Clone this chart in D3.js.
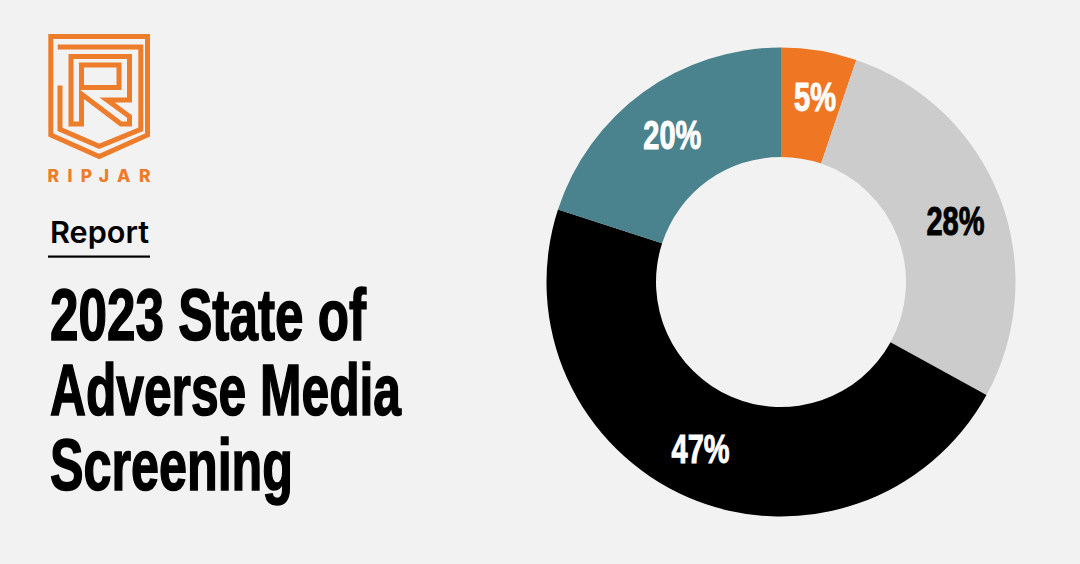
<!doctype html>
<html lang="en">
  <head>
    <meta charset="utf-8">
    <title>2023 State of Adverse Media Screening</title>
    <style>
      html, body { margin: 0; padding: 0; background: #f2f2f2; }
      svg { display: block; }
      .heavy { font-family: "Liberation Sans Narrow", "Liberation Sans", sans-serif; font-weight: 700; }
    </style>
    <script src="https://d3js.org/d3.v7.min.js"></script>
  </head>
  <body>
    <svg id="chart" width="1080" height="564"></svg>
    <script>
      // values
      var shares = [5.2, 27.8, 47, 20]
      var colors = ['#ef7623', '#cccccc', '#000000', '#4a838d']
      var labelColors = ['#ffffff', '#000000', '#ffffff', '#ffffff']
      var titleLines = ['2023 State of', 'Adverse Media', 'Screening']
      var titleWidths = [316, 351, 243]

      var svg = d3.select('#chart')
      var orange = '#ee7d2b'

      // donut
      var pie = d3.pie().sort(null)
      var arc = d3.arc().innerRadius(125).outerRadius(234.5)
      var labelArc = d3.arc().innerRadius(185).outerRadius(185)
      // labels in the original sit a little off the centroid
      var labelNudge = [[4, -3], [2, 6], [-7, -3], [0, 2]]

      var donut = svg.append('g').attr('transform', 'translate(781,282)')
      var slices = pie(shares)

      donut.selectAll('path')
        .data(slices)
        .enter()
        .append('path')
        .attr('d', arc)
        .attr('fill', function(d, i) { return colors[i] })

      donut.selectAll('text')
        .data(slices)
        .enter()
        .append('text')
        .attr('class', 'heavy')
        .attr('transform', function(d, i) {
          var c = labelArc.centroid(d)
          return 'translate(' + (c[0] + labelNudge[i][0]) + ',' + (c[1] + labelNudge[i][1]) + ')'
        })
        .attr('y', 14.5)
        .attr('text-anchor', 'middle')
        .attr('font-size', 40)
        .attr('textLength', function(d) { return String(Math.round(d.data)).length * 16 + 26 })
        .attr('lengthAdjust', 'spacingAndGlyphs')
        .attr('fill', function(d, i) { return labelColors[i] })
        .attr('stroke', function(d, i) { return labelColors[i] })
        .attr('stroke-width', 1)
        .text(function(d) { return Math.round(d.data) + '%' })

      // logo
      var logo = svg.append('g').attr('fill', 'none').attr('stroke', orange).attr('stroke-width', 5)
      logo.append('path').attr('d', 'M50.8,36.5 H147.5 V135 L99.2,156.6 L50.8,135 Z')
      logo.append('path').attr('d', 'M57.7,47 H140.8 V129.3 L99.2,146.3 L60,129.3 V85.5')
      logo.append('path').attr('d', 'M71,124 V56.5 H129.5 V100 H107 L129.5,116.5 V124 H121 L81.5,94 V124 Z')
      logo.append('rect').attr('x', 81.5).attr('y', 65).attr('width', 37.5).attr('height', 22.5)

      svg.append('text')
        .attr('x', 47.5).attr('y', 182.3)
        .attr('font-family', 'Inter, sans-serif')
        .attr('font-weight', 800)
        .attr('font-size', 17.5)
        .attr('fill', orange)
        .attr('textLength', 103)
        .attr('lengthAdjust', 'spacing')
        .text('RIPJAR')

      // headings
      svg.append('text')
        .attr('x', 50).attr('y', 243)
        .attr('font-family', 'Inter, sans-serif')
        .attr('font-weight', 600)
        .attr('font-size', 30)
        .attr('textLength', 99)
        .attr('lengthAdjust', 'spacingAndGlyphs')
        .attr('fill', '#000')
        .text('Report')

      svg.append('rect')
        .attr('x', 48).attr('y', 255.5)
        .attr('width', 102).attr('height', 2.2)
        .attr('fill', '#000')

      svg.selectAll('text.title')
        .data(titleLines)
        .enter()
        .append('text')
        .attr('class', 'title heavy')
        .attr('x', 50)
        .attr('y', function(d, i) { return 340 + i * 75 })
        .attr('font-size', 73)
        .attr('textLength', function(d, i) { return titleWidths[i] })
        .attr('lengthAdjust', 'spacingAndGlyphs')
        .attr('fill', '#000')
        .attr('stroke', '#000')
        .attr('stroke-width', 1.6)
        .text(function(d) { return d })
    </script>
  </body>
</html>
